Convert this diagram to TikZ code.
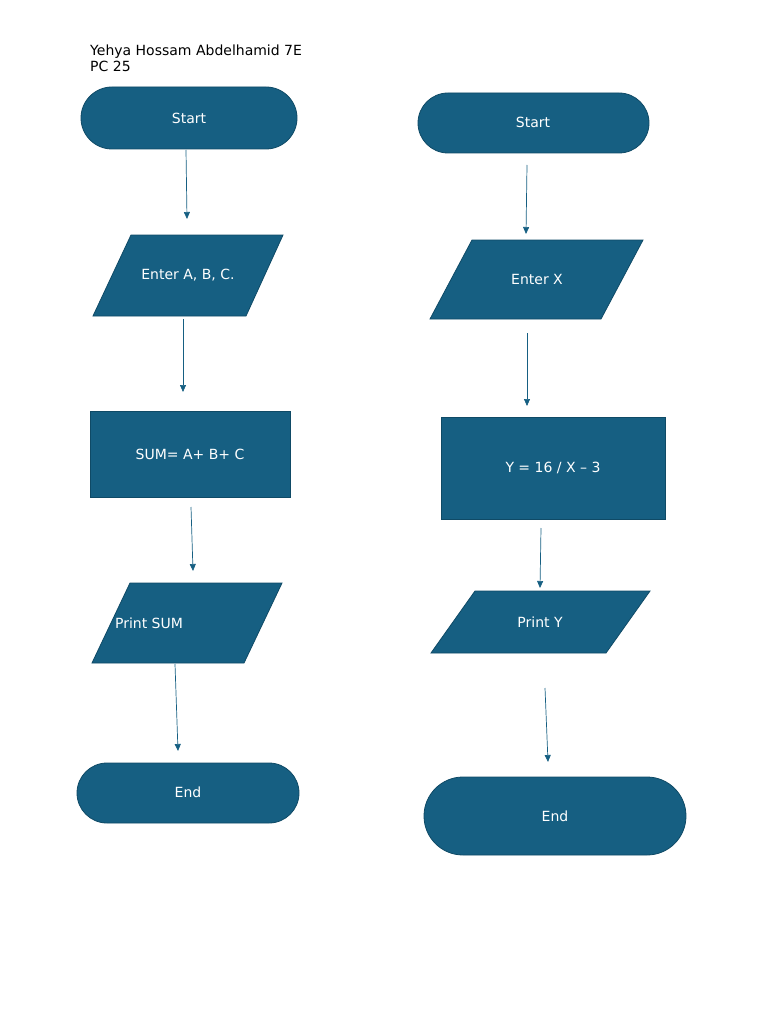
\documentclass[tikz,border=0pt]{standalone}
\usepackage{fontspec}
\setmainfont{DejaVu Sans}
\usetikzlibrary{arrows.meta}
\definecolor{fc}{HTML}{165F82}
\definecolor{bc}{HTML}{0F4A66}
\tikzset{
 shp/.style={fill=fc,draw=bc,line width=0.8pt},
 lbl/.style={text=white,font=\fontsize{14}{17}\selectfont},
 arr/.style={draw=fc,line width=0.7pt,-{Triangle[length=7pt,width=6pt]}}
}
\begin{document}
\begin{tikzpicture}[x=1pt,y=-1pt]
\useasboundingbox (0,0) rectangle (768,1024);
\node[anchor=north west,align=left,font=\fontsize{14}{16}\selectfont,inner sep=0] (title) at (90,45) {Yehya Hossam Abdelhamid 7E\\PC 25};
% left
\draw[shp,rounded corners=31pt] (81,87) rectangle (297,149);
\node[lbl] (ls) at (189,118) {Start};
\draw[shp] (131,235) -- (283,235) -- (246,316) -- (93,316) -- cycle;
\node[lbl] (lin) at (188,275) {Enter A, B, C.};
\draw[shp] (90,411) rectangle (290,497);
\node[lbl] (lsum) at (190,454) {SUM= A+ B+ C};
\draw[shp] (130,583) -- (282,583) -- (244,663) -- (92,663) -- cycle;
\node[lbl] (lpr) at (149,623) {Print SUM};
\draw[shp,rounded corners=30pt] (77,763) rectangle (299,823);
\node[lbl] (le) at (188,792) {End};
\coordinate (a1) at (186,150); \coordinate (b1) at (187,219);
\coordinate (a2) at (183,319); \coordinate (b2) at (183,392);
\coordinate (a3) at (191,507); \coordinate (b3) at (193,571);
\coordinate (a4) at (175,664); \coordinate (b4) at (178,751);
\draw[arr] (a1) -- (b1); \draw[arr] (a2) -- (b2); \draw[arr] (a3) -- (b3); \draw[arr] (a4) -- (b4);
% right
\draw[shp,rounded corners=30pt] (418,93) rectangle (649,153);
\node[lbl] (rs) at (533,122) {Start};
\draw[shp] (472,240) -- (643,240) -- (601,319) -- (430,319) -- cycle;
\node[lbl] (rin) at (537,279) {Enter X};
\draw[shp] (441,417) rectangle (665,519);
\node[lbl] (ry) at (553,468) {Y = 16 / X – 3};
\draw[shp] (475,591) -- (650,591) -- (606,653) -- (431,653) -- cycle;
\node[lbl] (rpr) at (540,622) {Print Y};
\draw[shp,rounded corners=39pt] (424,777) rectangle (686,855);
\node[lbl] (re) at (555,816) {End};
\coordinate (c1) at (527,165); \coordinate (d1) at (526,234);
\coordinate (c2) at (527,333); \coordinate (d2) at (527,406);
\coordinate (c3) at (541,528); \coordinate (d3) at (540,588);
\coordinate (c4) at (545,688); \coordinate (d4) at (548,762);
\draw[arr] (c1) -- (d1); \draw[arr] (c2) -- (d2); \draw[arr] (c3) -- (d3); \draw[arr] (c4) -- (d4);
\end{tikzpicture}
\end{document}
